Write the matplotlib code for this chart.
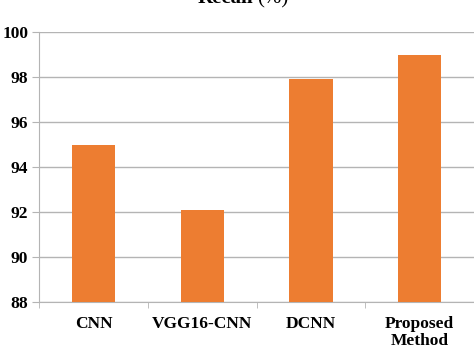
import numpy as np
import matplotlib.pyplot as plt

methods = ["CNN", "VGG16-CNN", "DCNN", "Proposed\nMethod"]
recall = [95.0, 92.1, 97.9, 99.0]
y_ticks = [88, 90, 92, 94, 96, 98, 100]

plt.rcParams['font.family'] = ['Liberation Serif', 'DejaVu Serif']

fig = plt.figure(figsize=(4.74, 3.48), dpi=100)
ax = fig.add_axes([0.083, 0.132, 0.917, 0.776])

x = np.arange(len(methods))
ax.bar(x, recall, width=0.4, color='#ED7D31', zorder=3)

ax.set_ylim(88, 100)
ax.set_xlim(-0.5, len(methods) - 0.5)
ax.set_yticks(y_ticks)
ax.set_yticklabels([str(v) for v in y_ticks], fontsize=12.5, fontweight='bold')
ax.yaxis.grid(True, color='#b4b4b4', linewidth=1.0, zorder=0)

# category labels centred under bars, tick marks on the boundaries
ax.set_xticks(x)
ax.set_xticklabels(methods, fontsize=12.5, fontweight='bold', linespacing=1.12)
ax.tick_params(axis='x', length=0, pad=10)
ax.set_xticks(np.arange(len(methods) + 1) - 0.5, minor=True)
ax.tick_params(axis='x', which='minor', length=4, color='#b4b4b4', direction='out')
ax.tick_params(axis='y', length=5, color='#b4b4b4', pad=3)

for side in ['top', 'right']:
    ax.spines[side].set_visible(False)
for side in ['left', 'bottom']:
    ax.spines[side].set_color('#b4b4b4')

fig.text(0.535, 0.99, "Recall", ha='right', va='baseline',
         fontsize=15, fontweight='bold')
fig.text(0.543, 0.99, "(%)", ha='left', va='baseline', fontsize=15)

fig.savefig("out.png", dpi=100)
